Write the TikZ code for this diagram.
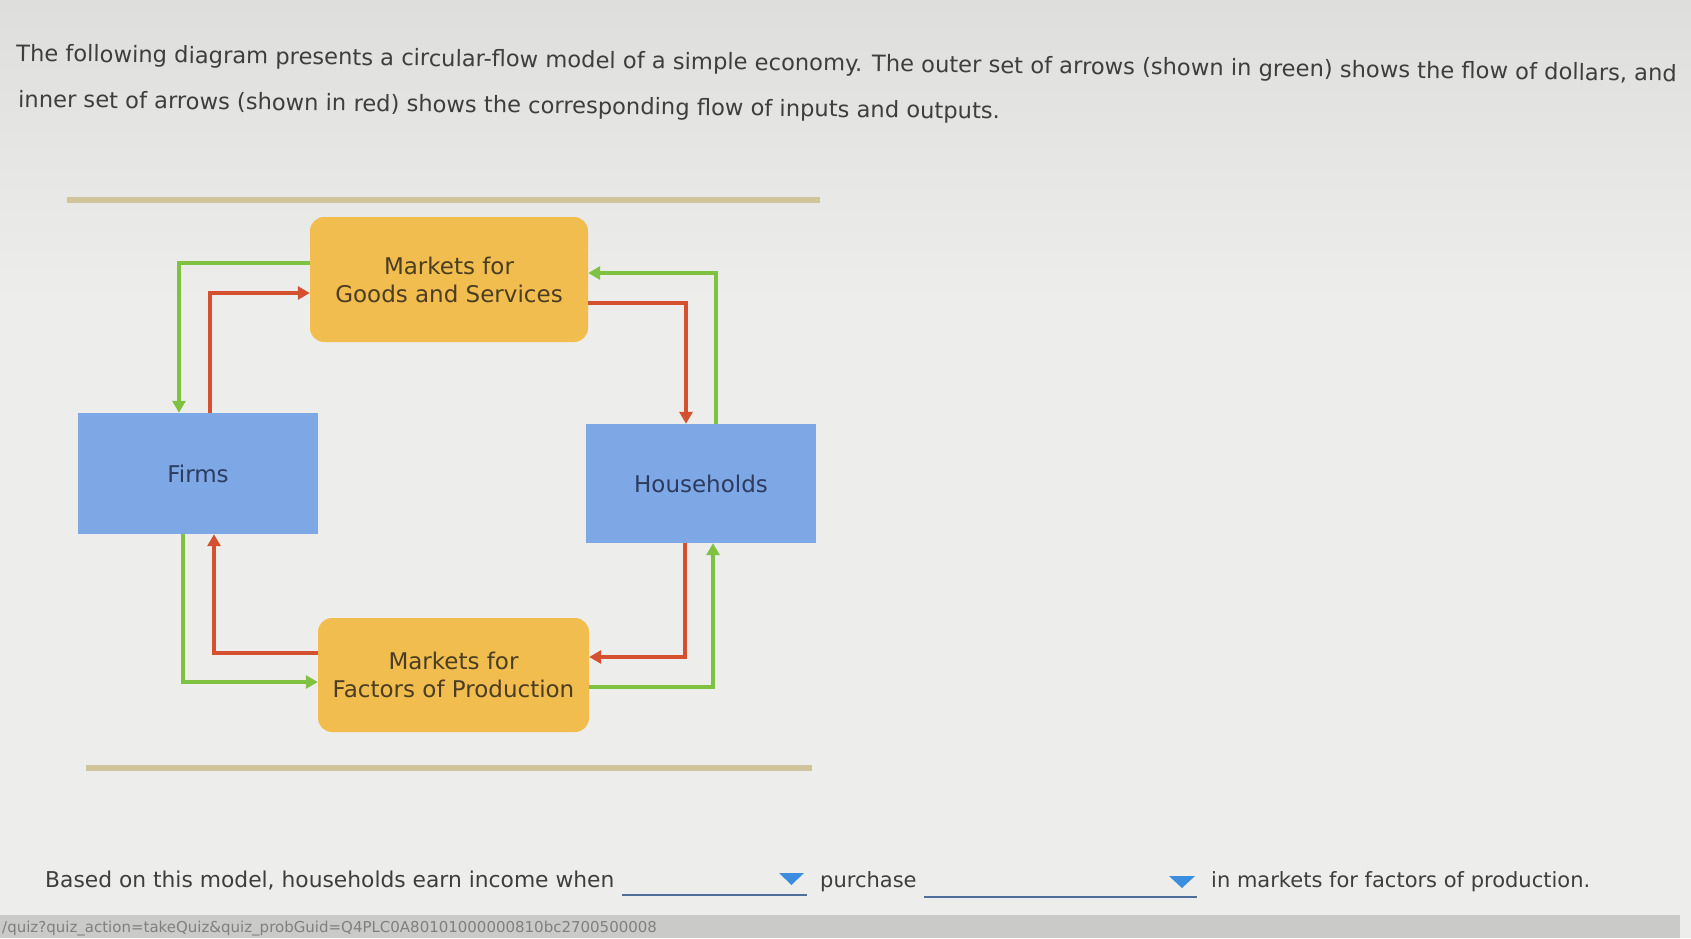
\documentclass[tikz,border=0pt]{standalone}
\usepackage{fontspec}
\setmainfont{DejaVu Sans}
\usetikzlibrary{arrows.meta}
\definecolor{bgtop}{HTML}{DEDEDC}
\definecolor{bgbot}{HTML}{EDEDEB}
\definecolor{txt}{HTML}{3E3E3E}
\definecolor{boxy}{HTML}{F2BD4F}
\definecolor{boxb}{HTML}{7DA7E5}
\definecolor{gline}{HTML}{7FC241}
\definecolor{rline}{HTML}{D4502E}
\definecolor{tan}{HTML}{CFC59C}
\definecolor{ytxt}{HTML}{4A3D22}
\definecolor{btxt}{HTML}{2C3B5E}
\definecolor{ddline}{HTML}{4F6E9C}
\definecolor{ddtri}{HTML}{3B8DDD}
\definecolor{band}{HTML}{CACAC8}
\begin{document}
\begin{tikzpicture}[x=1pt,y=-1pt,
  market/.style={fill=boxy, rounded corners=14pt, align=center, text=ytxt,
    font=\fontsize{23}{28}\selectfont, inner sep=0pt},
  agent/.style={fill=boxb, align=center, text=btxt,
    font=\fontsize{23}{28}\selectfont, inner sep=0pt},
  gflow/.style={draw=gline, line width=4.5pt, -{Triangle[length=12pt,width=13pt]}},
  rflow/.style={draw=rline, line width=4.5pt, -{Triangle[length=12pt,width=13pt]}},
  body/.style={anchor=base west, text=txt, font=\fontsize{21}{26}\selectfont, inner sep=0pt},
  head/.style={body, font=\fontsize{22.6}{28}\selectfont},
  tanrule/.style={draw=tan, line width=6pt},
  dd/.style={draw=ddline, line width=2pt},
  ddarrow/.style={fill=ddtri}
]
\useasboundingbox (0,0) rectangle (1691,938);
\shade[top color=bgtop, bottom color=bgbot] (0,0) rectangle (1691,300);
\fill[bgbot] (0,299) rectangle (1691,938);

% header text
\node[head, rotate=-0.7] (h1) at (16,61) {The following diagram presents a circular-flow model of a simple economy. The outer set of arrows (shown in green) shows the flow of dollars, and};
\node[head, rotate=-0.7] (h2) at (18,107) {inner set of arrows (shown in red) shows the corresponding flow of inputs and outputs.};

% rules
\coordinate (t1) at (67,200);
\coordinate (t2) at (820,200);
\coordinate (b1) at (86,768);
\coordinate (b2) at (812,768);
\draw[tanrule] (t1) -- (t2);
\draw[tanrule] (b1) -- (b2);

% boxes
\node[market, minimum width=278pt, minimum height=125pt] (goods) at (449,279.5) {Markets for\\Goods and Services};
\node[market, minimum width=271pt, minimum height=114pt] (factors) at (453.5,675) {Markets for\\Factors of Production};
\node[agent, minimum width=240pt, minimum height=121pt] (firms) at (198,473.5) {Firms};
\node[agent, minimum width=230pt, minimum height=119pt] (house) at (701,483.5) {Households};

% flows
\draw[gflow] ([yshift=16.5pt]goods.west) -| ([xshift=-19pt]firms.north);
\draw[rflow] ([xshift=12pt]firms.north) |- ([yshift=-13.5pt]goods.west);
\draw[gflow] ([xshift=15pt]house.north) |- ([yshift=6.5pt]goods.east);
\draw[rflow] ([yshift=-23.5pt]goods.east) -| ([xshift=-15pt]house.north);
\draw[gflow] ([xshift=-15pt]firms.south) |- ([yshift=-7pt]factors.west);
\draw[rflow] ([yshift=22pt]factors.west) -| ([xshift=16pt]firms.south);
\draw[rflow] ([xshift=-16pt]house.south) |- ([yshift=18pt]factors.east);
\draw[gflow] ([yshift=-12pt]factors.east) -| ([xshift=12pt]house.south);

% question line
\node[body, font=\fontsize{21.8}{26}\selectfont] (q1) at (45,887) {Based on this model, households earn income when};
\coordinate (u1a) at (622,895);
\coordinate (u1b) at (807,895);
\draw[dd] (u1a) -- (u1b);
\fill[ddarrow] (779,873) -- (804,873) -- (791.5,885) -- cycle;
\node[body] (q2) at (820,887) {purchase};
\coordinate (u2a) at (924,897);
\coordinate (u2b) at (1197,897);
\draw[dd] (u2a) -- (u2b);
\fill[ddarrow] (1169,876) -- (1195,876) -- (1182,888) -- cycle;
\node[body] (q3) at (1211,887) {in markets for factors of production.};

% bottom status band
\fill[band] (0,915) rectangle (1680,938);
\node[anchor=base west, inner sep=0pt, text=black!50, font=\fontsize{15}{18}\selectfont] (url) at (2,932) {/quiz?quiz\_action=takeQuiz\&quiz\_probGuid=Q4PLC0A80101000000810bc2700500008};
\end{tikzpicture}
\end{document}
